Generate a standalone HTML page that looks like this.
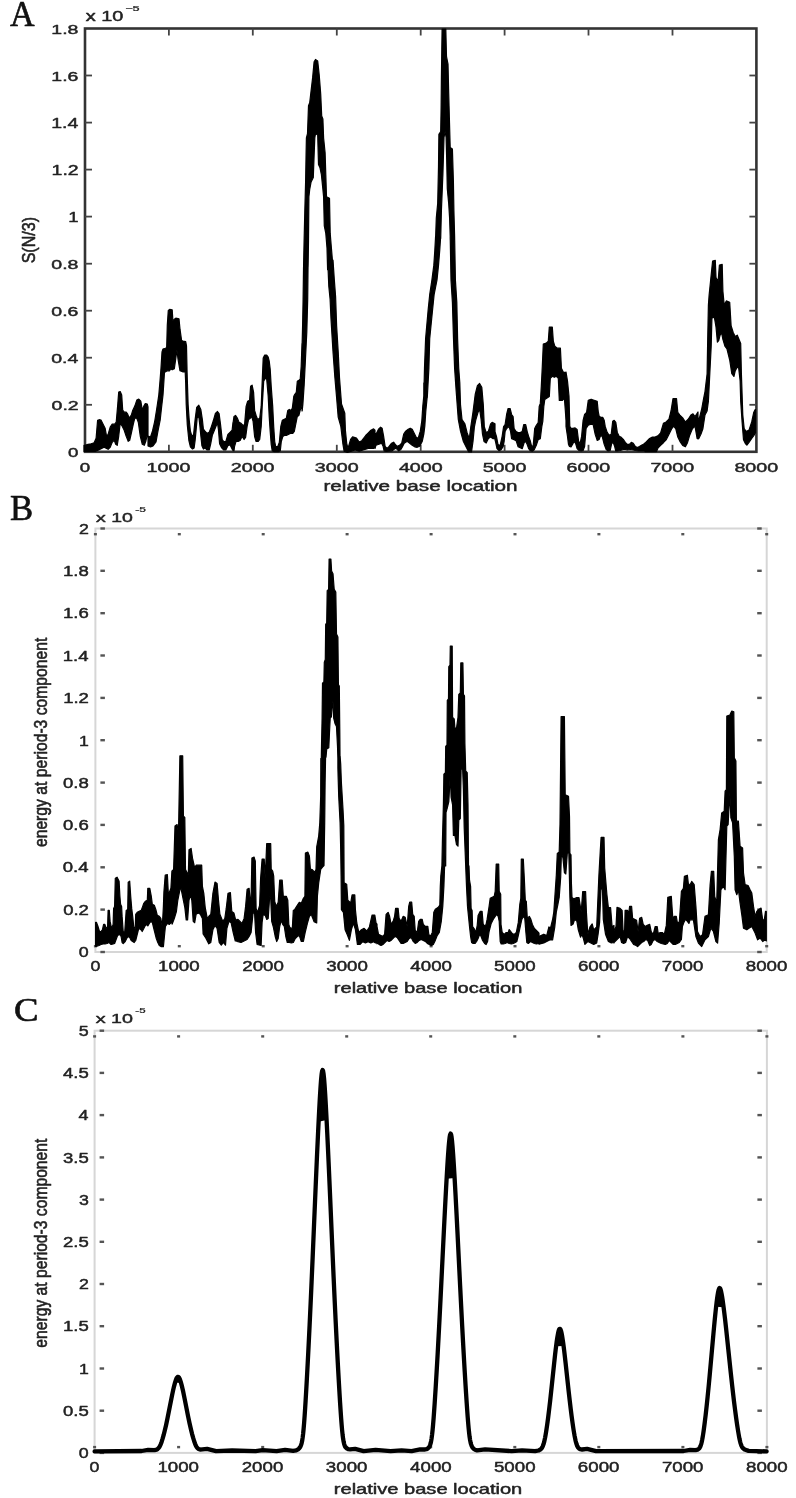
<!DOCTYPE html>
<html><head><meta charset="utf-8"><title>Figure</title>
<style>html,body{margin:0;padding:0;background:#fff;} svg{display:block;}</style>
</head><body>
<svg width="796" height="1498" viewBox="0 0 796 1498">
<rect width="796" height="1498" fill="#fff"/>
<g>
<rect x="85.0" y="28.5" width="671.4" height="423.3" fill="none" stroke="#333" stroke-width="2.6"/>
<line x1="168.9" y1="451.8" x2="168.9" y2="444.8" stroke="#444" stroke-width="1.8"/>
<line x1="168.9" y1="28.5" x2="168.9" y2="35.5" stroke="#444" stroke-width="1.8"/>
<line x1="252.8" y1="451.8" x2="252.8" y2="444.8" stroke="#444" stroke-width="1.8"/>
<line x1="252.8" y1="28.5" x2="252.8" y2="35.5" stroke="#444" stroke-width="1.8"/>
<line x1="336.8" y1="451.8" x2="336.8" y2="444.8" stroke="#444" stroke-width="1.8"/>
<line x1="336.8" y1="28.5" x2="336.8" y2="35.5" stroke="#444" stroke-width="1.8"/>
<line x1="420.7" y1="451.8" x2="420.7" y2="444.8" stroke="#444" stroke-width="1.8"/>
<line x1="420.7" y1="28.5" x2="420.7" y2="35.5" stroke="#444" stroke-width="1.8"/>
<line x1="504.6" y1="451.8" x2="504.6" y2="444.8" stroke="#444" stroke-width="1.8"/>
<line x1="504.6" y1="28.5" x2="504.6" y2="35.5" stroke="#444" stroke-width="1.8"/>
<line x1="588.5" y1="451.8" x2="588.5" y2="444.8" stroke="#444" stroke-width="1.8"/>
<line x1="588.5" y1="28.5" x2="588.5" y2="35.5" stroke="#444" stroke-width="1.8"/>
<line x1="672.5" y1="451.8" x2="672.5" y2="444.8" stroke="#444" stroke-width="1.8"/>
<line x1="672.5" y1="28.5" x2="672.5" y2="35.5" stroke="#444" stroke-width="1.8"/>
<line x1="85.0" y1="404.8" x2="92.0" y2="404.8" stroke="#444" stroke-width="1.8"/>
<line x1="756.4" y1="404.8" x2="749.4" y2="404.8" stroke="#444" stroke-width="1.8"/>
<line x1="85.0" y1="357.7" x2="92.0" y2="357.7" stroke="#444" stroke-width="1.8"/>
<line x1="756.4" y1="357.7" x2="749.4" y2="357.7" stroke="#444" stroke-width="1.8"/>
<line x1="85.0" y1="310.7" x2="92.0" y2="310.7" stroke="#444" stroke-width="1.8"/>
<line x1="756.4" y1="310.7" x2="749.4" y2="310.7" stroke="#444" stroke-width="1.8"/>
<line x1="85.0" y1="263.7" x2="92.0" y2="263.7" stroke="#444" stroke-width="1.8"/>
<line x1="756.4" y1="263.7" x2="749.4" y2="263.7" stroke="#444" stroke-width="1.8"/>
<line x1="85.0" y1="216.6" x2="92.0" y2="216.6" stroke="#444" stroke-width="1.8"/>
<line x1="756.4" y1="216.6" x2="749.4" y2="216.6" stroke="#444" stroke-width="1.8"/>
<line x1="85.0" y1="169.6" x2="92.0" y2="169.6" stroke="#444" stroke-width="1.8"/>
<line x1="756.4" y1="169.6" x2="749.4" y2="169.6" stroke="#444" stroke-width="1.8"/>
<line x1="85.0" y1="122.6" x2="92.0" y2="122.6" stroke="#444" stroke-width="1.8"/>
<line x1="756.4" y1="122.6" x2="749.4" y2="122.6" stroke="#444" stroke-width="1.8"/>
<line x1="85.0" y1="75.5" x2="92.0" y2="75.5" stroke="#444" stroke-width="1.8"/>
<line x1="756.4" y1="75.5" x2="749.4" y2="75.5" stroke="#444" stroke-width="1.8"/>
<polygon points="84.0,445.3 85.0,445.3 88.0,444.3 91.1,443.8 94.1,442.8 96.1,438.3 97.6,420.2 99.1,419.7 101.1,420.2 103.1,424.2 105.1,428.2 106.6,436.3 108.1,434.3 110.2,427.2 112.2,424.2 114.7,424.2 116.2,422.2 117.7,405.1 118.7,392.1 120.2,391.6 121.7,395.1 122.7,410.2 124.2,412.2 126.2,412.2 127.7,414.2 129.2,418.2 131.3,415.2 132.8,410.2 134.8,406.1 136.8,400.1 138.8,399.1 140.8,401.1 142.3,410.2 143.8,406.1 145.3,403.6 147.3,404.1 148.0,406.8 148.0,436.0 150.5,437.0 152.5,431.0 154.6,422.0 156.7,409.0 158.8,395.0 160.0,381.0 161.0,368.0 162.0,352.0 163.0,349.0 164.5,348.5 164.5,349.2 165.4,349.0 166.7,346.9 167.3,325.0 168.3,310.4 169.6,309.4 172.2,309.9 172.9,320.8 174.3,319.3 175.8,318.2 179.0,318.8 180.0,329.2 181.6,340.6 183.1,341.1 185.7,341.7 186.5,345.8 187.1,372.9 188.1,404.2 189.2,419.8 190.4,431.2 191.7,435.4 193.5,435.4 195.1,419.8 196.7,407.3 198.8,405.2 200.8,409.4 202.4,419.8 203.4,429.2 205.0,431.2 207.1,433.3 209.2,432.3 211.2,427.1 213.3,420.8 215.4,413.5 217.5,411.5 219.1,413.5 220.6,425.0 222.2,439.6 223.8,441.7 225.8,441.7 227.9,434.4 230.0,432.3 232.1,430.2 233.0,422.3 233.0,423.3 234.0,416.4 235.5,415.4 237.5,418.4 239.1,422.4 241.1,423.4 243.1,425.4 244.6,424.4 246.1,406.4 247.6,401.3 249.6,400.3 250.6,386.3 252.1,385.2 253.6,392.3 254.6,410.4 256.1,415.4 257.6,419.4 259.7,418.4 261.2,406.4 262.2,381.2 263.2,358.1 264.7,355.1 266.7,355.1 268.2,357.1 269.2,361.1 270.2,369.2 271.2,386.3 272.7,406.4 273.7,426.5 274.7,441.5 275.7,446.6 277.7,446.6 279.3,442.5 280.8,426.5 282.3,420.4 284.3,419.4 286.3,418.4 287.8,410.4 289.3,409.4 290.8,410.4 292.3,408.4 293.8,396.3 294.8,394.3 296.3,392.3 297.3,381.2 298.9,380.2 300.2,379.2 301.2,366.2 302.0,343.3 302.0,348.8 302.6,325.5 303.1,299.3 303.5,269.7 303.5,273.8 303.5,269.7 304.1,240.7 304.8,211.4 305.6,182.0 306.1,152.7 306.4,138.0 307.5,133.6 308.5,105.7 309.7,102.8 311.4,88.1 312.6,77.9 314.1,61.7 315.5,59.5 317.7,61.0 319.2,74.9 320.7,94.0 321.7,116.0 322.9,118.9 323.6,138.0 325.1,152.7 325.8,174.7 326.5,196.7 329.5,198.2 330.2,233.4 331.4,248.0 332.4,260.0 332.4,269.6 332.4,260.0 333.0,260.0 334.3,279.6 335.6,296.7 336.6,325.5 338.2,351.7 339.5,377.8 341.5,404.0 344.8,413.2 345.4,430.2 346.7,443.3 348.0,448.5 350.6,439.4 352.6,436.8 356.5,438.1 359.2,442.0 361.8,440.7 365.7,435.5 368.3,432.8 370.9,430.2 373.6,428.9 375.0,430.2 375.0,433.2 376.0,434.2 378.5,429.2 380.6,427.2 382.1,428.2 383.6,436.2 385.1,446.3 387.1,448.3 389.1,446.3 391.6,443.2 393.6,442.2 395.1,444.2 397.1,446.3 399.6,445.2 401.7,443.2 403.7,434.2 405.7,431.2 408.2,429.2 410.2,428.2 412.2,429.2 414.2,433.2 416.2,437.2 418.2,438.2 420.3,431.2 421.8,421.1 422.8,406.1 423.8,396.0 423.8,382.9 423.8,396.0 424.5,368.1 425.6,338.8 428.2,309.4 429.7,294.7 431.9,280.0 433.8,265.4 434.8,250.7 435.6,236.0 435.6,236.0 435.6,237.9 436.3,218.0 437.7,203.4 438.5,166.7 438.9,134.4 440.7,131.5 441.1,108.0 441.4,78.7 441.8,49.3 442.1,29.1 445.8,29.1 446.5,56.7 448.0,64.0 448.7,93.3 449.5,122.7 450.2,147.6 452.4,149.1 453.4,181.4 453.9,210.7 454.6,236.0 454.6,239.5 454.6,236.0 455.4,280.0 456.8,302.1 457.6,338.8 458.7,368.1 459.8,382.8 460.5,404.8 462.0,419.5 464.9,423.9 467.1,432.7 469.3,438.6 470.8,426.8 473.0,412.1 475.2,394.5 477.4,385.7 479.6,383.5 481.8,387.2 483.3,404.8 484.3,426.8 486.2,432.7 488.4,431.2 490.6,423.9 492.1,422.4 495.0,423.9 495.0,431.5 495.0,431.6 496.5,436.6 498.0,444.6 500.1,445.6 502.1,436.6 503.6,426.6 505.1,424.5 506.6,414.5 508.1,408.5 510.1,408.5 511.6,414.5 513.1,416.5 514.1,428.6 516.1,431.6 518.1,432.6 520.2,432.6 522.2,431.6 523.7,424.5 525.7,424.5 527.2,431.6 528.7,436.6 530.2,440.6 531.7,446.7 533.2,445.6 534.7,428.6 536.2,425.5 538.2,422.5 539.2,406.5 540.3,403.4 541.3,386.4 542.3,366.3 543.3,344.1 546.3,343.1 548.3,341.1 549.3,327.1 552.3,327.1 553.3,341.1 554.8,346.2 557.3,348.2 560.4,348.2 561.4,368.3 563.4,372.3 565.9,372.3 566.0,372.1 566.0,373.8 566.0,372.1 567.5,381.1 569.0,396.2 569.8,426.4 571.0,428.4 573.0,428.4 575.1,427.9 577.1,429.4 578.6,441.4 580.1,443.4 581.6,436.4 583.1,420.3 584.6,414.3 586.6,412.3 588.3,400.2 591.1,399.2 594.1,400.2 597.2,401.2 598.2,411.3 599.2,416.3 600.7,417.3 602.7,417.3 604.2,420.3 605.2,426.4 607.2,432.4 609.2,435.4 611.2,434.4 612.7,421.3 614.2,420.3 615.8,422.3 617.3,432.4 619.3,436.4 621.3,437.4 623.3,439.4 625.3,442.4 627.3,444.4 629.3,444.4 631.3,442.4 633.3,443.4 635.4,446.5 637.4,447.5 639.4,446.5 641.4,445.4 643.4,444.4 645.0,443.0 645.0,443.4 645.5,442.7 649.6,438.5 652.4,437.1 655.1,437.1 657.9,435.8 660.6,433.0 663.4,423.4 666.1,422.0 668.9,419.3 671.0,411.0 673.0,398.6 676.5,398.6 677.8,412.4 679.9,415.1 682.7,417.9 685.4,422.0 688.2,419.3 690.9,415.1 693.0,413.8 695.0,416.5 697.8,412.4 698.0,412.0 698.0,419.2 699.5,417.7 701.6,409.5 703.6,398.5 705.0,391.6 707.1,373.7 707.7,339.4 708.4,305.0 709.1,295.4 710.5,281.6 712.6,261.0 715.3,260.3 716.0,277.5 718.1,281.6 719.4,265.1 722.2,264.4 722.9,291.2 724.2,305.0 726.3,300.9 729.7,302.2 731.1,325.6 733.2,332.5 735.2,336.6 737.3,335.2 740.7,343.5 741.4,373.7 742.1,394.4 742.8,415.0 744.2,428.7 746.2,431.5 749.0,430.1 751.7,421.9 753.8,412.2 755.2,409.5 755.5,409.5 755.5,432.9 755.2,432.9 753.8,435.6 751.7,438.4 749.0,442.5 746.9,445.2 745.6,443.9 743.5,439.7 742.1,421.9 740.7,401.2 740.1,380.6 738.7,368.2 737.3,366.9 735.2,371.0 733.9,376.5 731.8,373.7 729.7,360.0 727.0,349.0 724.9,346.2 722.9,339.4 721.5,332.5 720.1,335.2 718.7,340.7 717.4,342.1 716.0,327.0 714.6,318.7 713.2,316.0 711.9,318.7 711.2,346.2 709.8,373.7 708.4,401.2 707.1,410.9 705.0,415.0 702.9,428.7 700.9,434.2 698.8,438.4 698.0,438.9 698.0,437.3 697.1,438.5 695.0,426.1 692.3,428.9 689.5,435.8 687.5,442.7 685.4,446.8 682.7,445.4 679.9,441.3 677.8,437.1 675.8,428.9 673.7,426.1 671.6,428.9 668.9,434.4 666.1,439.9 663.4,442.7 660.6,445.4 657.9,448.2 656.5,451.6 651.0,451.6 645.5,451.6 645.0,451.7 645.0,451.0 641.4,451.0 638.4,451.0 635.4,450.5 633.3,450.0 630.3,449.5 627.3,450.0 625.3,449.5 623.3,449.5 620.3,450.5 617.3,451.0 615.8,451.0 614.7,446.5 613.2,442.4 611.7,443.4 610.2,450.5 608.2,451.0 606.2,449.5 604.2,444.4 602.2,436.4 600.7,435.4 599.2,439.4 597.2,440.4 595.2,434.4 593.1,424.3 591.1,424.3 588.1,425.3 586.1,428.4 584.6,446.5 583.1,450.5 581.1,451.0 579.1,450.5 577.1,448.5 575.6,443.4 574.0,441.4 572.5,444.4 571.0,447.0 569.5,446.5 568.5,444.4 567.5,436.4 566.0,426.4 566.0,426.4 566.0,420.8 565.4,411.5 564.4,398.4 562.4,400.4 559.3,400.4 558.3,378.3 556.3,376.3 554.3,377.3 552.3,376.3 550.3,378.3 549.3,396.4 547.8,397.4 546.3,398.4 544.8,399.4 543.8,406.5 542.8,421.5 541.8,426.6 540.3,438.6 538.2,439.6 536.2,445.6 534.2,449.7 532.2,451.2 530.2,450.7 528.7,448.7 527.2,444.6 525.7,441.6 524.2,442.6 522.2,448.7 520.2,447.7 518.1,446.7 516.1,440.6 514.1,439.6 511.6,438.6 510.6,431.6 509.1,426.6 506.6,428.6 505.1,431.6 504.1,441.6 503.1,446.7 501.1,449.7 499.0,450.7 497.0,448.7 495.5,441.6 495.0,439.9 495.0,438.6 492.8,438.6 490.6,437.1 488.4,438.6 486.2,443.0 484.0,441.5 482.5,434.2 481.1,419.5 479.6,409.2 478.1,412.1 475.9,419.5 474.4,426.8 473.0,441.5 471.5,451.8 468.6,451.8 466.4,447.4 463.4,441.5 460.5,431.2 458.3,419.5 456.1,390.1 454.6,368.1 453.5,338.8 452.4,302.1 451.0,280.0 450.2,236.0 450.2,239.5 450.2,236.0 449.6,218.0 448.7,203.4 447.3,188.7 446.7,159.4 446.1,137.4 445.1,131.5 444.0,137.4 442.9,174.0 442.3,188.7 441.4,210.7 440.7,238.6 440.7,236.0 440.7,236.0 439.7,250.7 438.5,265.4 437.0,280.0 434.1,294.7 432.6,309.4 429.7,338.8 428.9,368.1 427.3,397.5 427.3,397.5 427.3,396.0 427.3,396.0 426.8,401.0 425.8,411.1 424.8,426.2 423.8,434.2 422.3,441.2 419.7,446.3 417.2,447.3 414.7,446.8 412.2,445.2 409.7,443.2 407.2,441.2 404.2,443.2 402.2,447.3 400.7,449.8 398.6,450.8 396.1,448.3 394.1,449.3 392.1,450.8 389.1,451.1 386.1,451.3 384.1,450.8 383.1,446.3 381.6,443.2 379.0,444.2 376.0,445.2 375.0,448.5 375.0,445.6 373.6,448.5 368.3,448.5 363.1,449.9 359.2,451.2 355.2,449.9 351.3,451.2 347.4,452.5 344.1,451.2 342.8,443.3 340.8,426.3 338.2,417.1 336.6,397.5 334.9,377.8 333.0,351.7 331.0,318.9 330.1,299.3 328.8,286.2 327.7,260.0 327.6,269.7 327.6,260.0 327.6,269.7 327.0,248.0 325.8,233.4 324.3,226.0 323.6,196.7 322.9,189.4 321.4,174.7 319.9,167.4 318.5,164.4 317.7,135.1 315.5,133.6 314.8,138.0 314.1,155.6 313.3,177.6 311.1,182.0 309.7,189.4 308.9,196.7 308.5,240.7 308.1,266.8 308.1,260.0 308.1,260.0 307.7,299.3 306.8,332.0 305.5,358.2 304.2,384.4 302.9,404.0 302.2,410.6 302.0,411.0 302.0,405.0 301.9,406.4 300.4,409.4 298.9,415.4 297.3,416.4 295.3,426.5 294.3,431.5 292.8,433.5 290.3,433.5 288.3,434.5 286.3,435.5 284.3,435.5 282.8,436.5 281.3,441.5 280.3,450.6 278.3,451.6 276.2,451.6 274.2,451.6 272.2,450.6 271.2,444.5 270.2,431.5 269.2,416.4 268.2,396.3 266.7,379.2 265.2,378.2 263.7,381.2 262.2,406.4 261.2,426.5 259.7,439.5 258.2,441.5 256.1,441.5 254.6,436.5 253.1,421.4 251.6,416.4 250.1,418.4 248.6,419.4 247.1,426.5 245.6,437.5 244.1,439.5 242.1,436.5 240.1,440.5 238.1,441.5 236.0,441.5 234.5,446.6 234.0,450.6 233.0,450.6 233.0,450.0 232.6,450.0 231.6,447.9 230.0,444.8 227.9,445.8 225.8,450.0 223.8,450.0 221.7,447.9 219.6,443.8 218.5,430.2 217.5,422.9 216.5,425.0 214.4,430.2 212.3,435.4 210.7,443.8 209.2,450.0 207.1,450.0 205.0,447.9 203.4,449.0 201.9,445.8 200.8,435.4 199.8,425.0 198.8,416.7 197.2,417.7 196.1,430.2 195.1,440.6 194.1,447.9 192.5,449.0 190.4,446.9 188.9,440.6 187.3,425.0 186.2,404.2 185.7,383.3 185.2,371.9 183.1,371.9 180.0,370.8 177.9,358.3 176.9,350.0 175.8,358.3 174.3,368.8 172.2,369.8 170.6,368.8 169.6,370.8 167.0,370.8 165.4,371.9 164.5,372.0 164.5,371.9 163.0,395.0 161.5,408.0 160.2,420.0 158.0,431.0 156.0,442.0 153.0,446.0 150.5,447.0 148.0,446.0 148.0,434.9 147.3,434.3 145.8,441.3 144.3,445.3 142.3,444.3 140.3,436.3 138.3,422.2 136.8,418.2 134.8,418.2 133.3,424.2 131.3,433.3 129.7,440.3 128.2,441.3 126.2,436.3 124.2,430.3 122.2,426.2 120.2,423.2 118.7,436.3 117.2,445.3 115.7,444.3 114.2,440.3 112.2,442.3 110.2,447.3 108.1,449.3 106.1,448.3 104.1,447.3 102.1,448.3 100.1,449.3 97.6,450.4 95.1,451.4 90.1,451.4 85.0,451.4 84.0,451.4" fill="#000" stroke="#000" stroke-width="1.2" stroke-linejoin="round"/>
<rect x="95.4" y="528.5" width="671.3" height="423.5" fill="none" stroke="#d6d6d6" stroke-width="2"/>
<rect x="93.9" y="945.0" width="3" height="2.4" fill="#555"/>
<rect x="93.9" y="533.0" width="3" height="2.4" fill="#555"/>
<rect x="177.8" y="945.0" width="3" height="2.4" fill="#555"/>
<rect x="177.8" y="533.0" width="3" height="2.4" fill="#555"/>
<rect x="261.7" y="945.0" width="3" height="2.4" fill="#555"/>
<rect x="261.7" y="533.0" width="3" height="2.4" fill="#555"/>
<rect x="345.6" y="945.0" width="3" height="2.4" fill="#555"/>
<rect x="345.6" y="533.0" width="3" height="2.4" fill="#555"/>
<rect x="429.6" y="945.0" width="3" height="2.4" fill="#555"/>
<rect x="429.6" y="533.0" width="3" height="2.4" fill="#555"/>
<rect x="513.5" y="945.0" width="3" height="2.4" fill="#555"/>
<rect x="513.5" y="533.0" width="3" height="2.4" fill="#555"/>
<rect x="597.4" y="945.0" width="3" height="2.4" fill="#555"/>
<rect x="597.4" y="533.0" width="3" height="2.4" fill="#555"/>
<rect x="681.3" y="945.0" width="3" height="2.4" fill="#555"/>
<rect x="681.3" y="533.0" width="3" height="2.4" fill="#555"/>
<rect x="765.2" y="945.0" width="3" height="2.4" fill="#555"/>
<rect x="765.2" y="533.0" width="3" height="2.4" fill="#555"/>
<rect x="100.4" y="950.8" width="4.5" height="2.4" fill="#555"/>
<rect x="757.2" y="950.8" width="4.5" height="2.4" fill="#555"/>
<rect x="100.4" y="908.4" width="4.5" height="2.4" fill="#555"/>
<rect x="757.2" y="908.4" width="4.5" height="2.4" fill="#555"/>
<rect x="100.4" y="866.1" width="4.5" height="2.4" fill="#555"/>
<rect x="757.2" y="866.1" width="4.5" height="2.4" fill="#555"/>
<rect x="100.4" y="823.7" width="4.5" height="2.4" fill="#555"/>
<rect x="757.2" y="823.7" width="4.5" height="2.4" fill="#555"/>
<rect x="100.4" y="781.4" width="4.5" height="2.4" fill="#555"/>
<rect x="757.2" y="781.4" width="4.5" height="2.4" fill="#555"/>
<rect x="100.4" y="739.0" width="4.5" height="2.4" fill="#555"/>
<rect x="757.2" y="739.0" width="4.5" height="2.4" fill="#555"/>
<rect x="100.4" y="696.7" width="4.5" height="2.4" fill="#555"/>
<rect x="757.2" y="696.7" width="4.5" height="2.4" fill="#555"/>
<rect x="100.4" y="654.3" width="4.5" height="2.4" fill="#555"/>
<rect x="757.2" y="654.3" width="4.5" height="2.4" fill="#555"/>
<rect x="100.4" y="612.0" width="4.5" height="2.4" fill="#555"/>
<rect x="757.2" y="612.0" width="4.5" height="2.4" fill="#555"/>
<rect x="100.4" y="569.6" width="4.5" height="2.4" fill="#555"/>
<rect x="757.2" y="569.6" width="4.5" height="2.4" fill="#555"/>
<rect x="100.4" y="527.3" width="4.5" height="2.4" fill="#555"/>
<rect x="757.2" y="527.3" width="4.5" height="2.4" fill="#555"/>
<polygon points="95.6,922.4 96.5,922.4 98.0,926.5 99.5,931.5 101.0,931.5 102.5,929.5 103.6,924.4 104.9,924.4 106.1,928.5 107.6,926.5 108.1,910.4 109.3,910.4 110.1,921.4 111.6,928.5 113.1,924.4 113.6,908.4 114.6,906.4 115.3,878.2 117.1,877.2 119.1,881.2 119.9,896.3 120.6,904.3 121.6,906.4 122.1,916.4 123.2,931.5 124.7,932.5 126.2,910.4 127.7,909.4 128.2,882.2 129.7,881.2 130.7,896.3 131.7,908.4 132.7,916.4 133.7,926.5 135.2,929.5 135.7,914.4 137.2,912.4 139.2,911.4 141.2,910.4 142.7,906.4 143.8,903.3 145.3,901.3 147.3,900.3 147.8,888.3 149.8,888.3 151.3,896.3 152.3,904.3 154.3,905.3 155.8,909.4 157.3,915.4 159.3,916.4 160.8,918.4 162.3,926.5 163.4,906.4 163.9,892.3 165.2,875.2 167.4,874.7 168.4,895.3 169.4,892.3 170.9,888.3 171.9,871.2 172.0,871.0 172.0,872.4 172.2,870.8 173.6,869.4 175.0,826.0 177.1,824.6 178.5,833.0 179.9,755.8 182.7,755.8 183.4,816.1 184.8,817.5 185.5,869.4 186.9,872.2 188.3,875.1 189.0,849.8 191.1,848.4 192.5,858.2 194.7,868.0 196.1,865.2 201.7,865.2 202.4,886.3 203.8,893.3 205.2,907.3 207.3,918.5 209.4,915.7 210.8,914.3 212.9,893.3 215.0,882.1 217.1,883.5 218.5,900.3 219.9,914.3 222.7,921.3 224.8,918.5 226.2,908.7 228.0,893.3 230.4,892.6 231.8,911.5 233.9,912.9 236.0,921.3 237.0,919.4 237.0,920.6 238.0,919.4 240.0,921.4 242.0,923.4 244.1,918.4 245.6,906.4 247.1,889.3 249.1,888.3 250.1,899.3 251.1,898.3 251.9,858.1 254.1,857.1 255.3,861.1 256.1,908.4 257.6,912.4 259.6,905.3 260.6,878.2 262.1,859.1 264.2,859.1 265.2,878.2 266.7,843.5 270.7,843.5 271.2,869.2 272.7,871.2 273.7,876.2 274.7,901.3 276.2,906.4 278.2,902.3 279.7,880.2 282.2,880.2 283.3,896.3 286.3,896.3 287.8,900.3 288.8,924.4 289.8,927.5 292.3,928.5 293.3,910.4 294.8,909.4 297.3,905.3 299.3,902.3 301.3,903.3 303.4,898.3 304.9,896.3 305.4,853.1 307.9,852.1 309.4,856.1 310.4,869.2 312.0,869.5 312.0,869.8 312.0,869.5 314.7,872.2 316.0,869.5 316.7,846.8 318.7,836.1 319.8,822.8 320.7,796.1 320.8,758.4 320.8,785.1 321.5,746.3 322.1,718.2 322.5,683.2 323.9,681.8 324.3,662.2 325.3,659.4 325.7,624.3 326.7,622.9 327.2,590.7 328.6,589.3 329.1,559.1 330.9,559.1 331.6,571.0 333.0,573.8 334.2,589.3 335.8,592.1 336.5,634.1 337.9,636.9 338.4,684.6 339.3,686.0 339.8,732.3 340.0,755.2 340.0,756.0 340.1,756.0 340.7,764.0 341.4,782.7 343.0,809.4 343.8,825.5 344.1,882.9 346.7,884.2 347.8,900.3 350.7,902.9 352.1,894.9 354.8,894.9 355.4,909.6 356.8,923.0 358.8,932.3 361.4,929.7 364.1,928.3 366.8,931.0 369.4,927.0 372.1,915.0 374.8,915.0 376.1,923.0 377.0,924.2 377.0,926.3 377.0,926.4 378.5,934.4 380.5,935.4 382.5,936.4 384.6,934.4 386.1,914.3 388.1,912.3 389.6,916.3 391.1,924.3 393.1,921.3 394.6,916.3 395.6,908.3 398.1,908.3 399.1,918.3 401.1,921.3 403.2,916.3 405.2,917.3 407.2,926.4 408.7,906.3 409.7,902.2 411.7,902.2 412.7,914.3 414.2,916.3 415.2,930.4 417.2,932.4 418.7,921.3 420.2,919.3 422.2,919.3 423.3,924.3 425.3,926.4 427.8,926.4 428.8,934.4 430.3,936.4 432.3,932.4 433.8,912.3 435.3,909.3 438.3,907.3 439.8,905.2 440.3,886.2 440.8,876.1 441.9,865.9 441.9,874.7 441.9,865.9 442.4,841.6 443.4,804.8 443.9,774.1 445.4,772.6 445.7,746.5 447.0,744.9 447.3,700.4 448.5,698.9 448.8,666.7 450.0,665.2 450.3,646.0 452.2,646.0 452.6,717.3 454.2,718.9 454.9,728.1 456.5,728.1 458.0,717.3 458.8,694.3 460.3,692.8 460.8,662.9 462.9,662.9 463.4,694.3 464.5,695.8 464.9,743.4 465.7,771.0 467.2,772.6 468.0,804.8 468.5,865.9 468.5,865.1 468.5,865.9 468.5,865.1 469.0,866.2 469.5,880.2 470.6,886.3 471.1,908.4 472.1,910.4 472.6,926.5 474.1,928.5 475.6,932.5 477.1,926.5 478.1,915.4 480.1,911.4 482.1,911.4 483.1,923.4 484.6,926.5 486.1,924.4 487.1,919.4 489.1,906.4 490.2,898.3 492.2,897.3 494.2,896.3 495.2,891.3 496.2,864.1 498.7,864.1 499.2,891.3 500.7,894.3 501.0,924.4 502.2,932.5 504.2,934.5 506.2,932.5 508.2,932.5 509.2,929.5 510.8,931.5 512.3,933.5 514.3,934.5 516.3,932.5 518.3,922.4 519.8,904.3 520.8,898.3 521.3,859.1 523.3,859.1 524.3,878.2 525.3,900.3 526.3,901.3 527.3,918.4 529.3,916.4 530.9,919.4 532.4,924.4 534.4,928.5 536.4,930.5 538.4,932.5 539.0,933.2 539.0,936.9 540.9,935.6 543.8,934.2 546.7,935.6 548.9,926.8 550.4,928.3 552.6,919.5 553.8,912.1 554.8,897.5 556.3,875.4 557.3,853.4 559.2,852.0 560.0,824.1 561.1,716.6 564.4,716.6 565.2,794.7 568.5,796.2 569.5,816.7 569.9,853.4 571.0,854.9 571.4,882.8 572.0,897.5 573.9,898.9 576.8,897.5 579.0,897.5 581.2,912.1 582.7,891.6 585.6,891.6 586.4,912.1 587.8,934.2 590.0,926.8 592.2,923.9 593.7,929.8 596.7,926.8 598.9,875.4 600.3,850.5 601.1,837.3 604.0,837.3 604.7,868.1 606.9,894.5 608.4,907.7 610.6,907.7 612.1,926.8 614.0,925.5 614.0,930.8 615.0,929.5 616.0,926.5 617.0,907.4 620.1,908.4 622.1,910.4 623.1,931.5 624.6,930.5 625.1,910.4 627.6,910.4 628.6,914.4 629.6,906.4 631.6,906.4 632.6,918.4 634.6,919.4 636.6,920.4 638.1,931.5 639.6,918.4 641.7,917.4 643.2,924.4 645.2,926.5 647.2,925.4 649.7,924.4 651.2,931.5 653.2,934.5 655.2,926.5 657.2,926.5 658.2,933.5 660.3,932.5 662.3,932.5 664.3,934.5 666.3,925.4 667.8,897.3 671.3,896.3 672.8,918.4 674.3,916.4 676.3,916.4 677.3,922.4 679.3,922.4 680.4,906.4 681.4,891.3 683.4,888.3 684.4,876.2 687.4,875.2 688.4,884.2 689.0,884.2 689.0,885.5 689.2,886.4 691.7,881.4 694.2,884.7 695.9,906.4 697.5,931.5 700.0,936.5 702.5,934.8 705.0,916.4 708.4,914.8 710.1,884.7 711.4,871.3 713.7,871.3 714.7,896.4 716.7,903.1 718.4,839.6 720.1,829.6 721.7,812.9 724.2,811.2 725.1,791.2 726.4,789.5 726.8,716.0 729.8,715.2 730.9,712.7 731.8,711.0 733.8,711.8 734.3,757.8 735.9,761.1 736.4,821.2 738.4,821.2 740.1,846.3 742.6,848.0 743.5,873.0 745.1,884.7 748.1,885.5 750.1,889.7 751.8,893.0 753.5,906.4 755.1,916.4 756.8,911.4 758.5,909.7 761.0,908.1 762.7,919.8 764.3,919.8 765.5,911.4 766.3,911.4 766.3,940.9 765.2,939.8 762.7,941.5 760.2,938.1 757.6,939.8 755.1,933.1 751.8,926.4 749.3,928.1 746.8,929.8 743.5,928.1 741.8,914.8 740.1,903.1 738.4,889.7 736.8,894.7 735.1,889.7 734.3,856.3 732.6,822.9 730.9,817.9 729.8,792.8 728.1,824.6 726.8,826.2 725.1,889.7 723.4,886.4 720.9,889.7 719.2,923.1 717.6,943.1 715.9,941.5 713.4,931.5 710.9,928.1 708.4,936.5 705.0,939.8 701.7,946.5 698.4,943.1 695.9,936.5 693.4,919.8 690.0,919.8 689.0,923.3 689.0,921.1 688.9,923.4 687.4,921.4 685.4,919.4 683.9,922.4 682.4,926.5 681.4,939.5 679.3,942.5 677.3,943.5 675.3,944.5 673.3,944.5 671.3,942.5 669.3,940.5 667.3,943.5 665.3,944.5 663.3,944.0 661.3,943.5 659.2,942.5 657.2,941.5 655.2,939.5 653.2,940.5 651.2,944.5 649.7,945.5 647.7,940.5 645.7,939.5 643.7,941.5 641.7,942.5 639.6,944.5 637.6,946.6 636.1,945.5 633.6,944.5 631.6,941.5 629.6,938.5 627.6,936.5 625.6,942.5 623.6,943.5 621.6,942.5 620.1,936.5 618.0,938.5 616.0,940.5 614.0,942.5 614.0,943.0 614.0,942.5 611.3,943.0 608.4,941.5 605.5,934.2 603.3,919.5 602.5,890.1 601.1,885.7 599.6,922.4 598.1,934.2 596.7,943.0 593.7,944.4 590.8,943.0 587.8,941.5 584.9,944.4 583.4,938.6 582.0,934.2 580.5,937.1 578.3,929.8 576.8,921.0 574.6,919.5 573.2,923.9 571.0,925.4 569.9,897.5 568.8,852.0 567.3,853.4 565.8,874.0 564.4,872.5 562.9,857.8 561.4,853.4 560.7,876.9 559.2,897.5 557.8,904.8 556.3,912.1 554.8,926.8 552.6,940.0 549.7,940.0 546.7,941.5 543.8,943.0 540.9,943.7 539.0,944.2 539.0,943.5 538.4,943.5 536.4,944.0 534.4,943.5 532.4,942.5 530.4,941.5 528.3,943.5 526.8,942.5 525.8,931.5 524.8,918.4 523.3,916.4 521.8,919.4 520.3,926.5 518.3,935.5 516.8,941.5 515.3,942.5 513.3,943.5 511.3,944.0 509.2,943.5 507.2,942.5 505.2,943.5 503.2,944.0 501.2,944.0 500.2,941.5 499.2,921.4 498.2,916.4 496.7,914.4 495.2,916.4 493.2,919.4 491.2,923.4 489.1,931.5 487.6,941.5 486.1,944.5 484.6,943.5 482.6,940.5 481.1,936.5 479.6,934.5 478.1,938.5 476.6,941.5 475.1,943.5 473.1,943.5 471.6,942.5 470.6,936.5 469.5,926.5 468.5,916.4 467.5,906.4 466.5,886.3 465.7,866.2 465.7,866.2 465.7,865.9 465.7,865.9 464.2,827.8 463.4,789.4 462.6,768.0 461.1,769.5 460.3,818.6 458.8,820.1 458.0,846.2 456.5,844.7 454.9,835.5 453.4,835.5 452.6,804.8 451.1,797.1 450.3,774.1 448.8,801.7 447.3,807.9 446.0,812.5 445.7,865.9 445.7,865.9 445.7,856.0 445.4,856.0 444.6,866.1 443.9,886.2 442.8,906.3 441.3,921.3 439.3,932.4 437.3,935.4 435.3,940.4 433.3,944.4 431.3,945.4 429.3,944.4 427.3,943.4 425.3,941.4 423.3,940.4 421.2,939.4 419.2,940.4 417.2,942.4 415.2,943.4 413.2,941.4 411.2,937.4 409.2,938.4 407.2,941.4 405.2,942.4 403.2,943.4 401.1,943.4 399.1,940.4 397.1,937.4 395.1,936.4 393.1,938.4 391.1,940.4 389.1,941.4 387.1,940.4 385.1,942.4 383.1,944.4 381.0,945.4 379.0,944.4 377.0,942.4 377.0,943.8 377.0,942.4 375.5,943.0 373.5,941.7 370.8,943.0 368.1,941.7 365.4,943.0 362.8,941.7 360.1,944.4 357.4,944.4 355.4,929.7 353.4,923.0 351.4,929.7 349.4,940.3 347.4,935.0 345.1,929.7 343.4,912.3 341.4,909.6 341.1,876.2 340.7,849.5 340.1,822.8 338.7,796.1 338.1,776.0 337.9,768.2 337.9,758.5 337.5,746.3 336.5,726.6 335.1,723.8 333.7,718.2 333.0,701.4 332.3,704.2 331.4,716.8 330.2,718.2 329.5,732.3 328.8,747.7 326.7,749.1 326.0,757.2 326.0,756.0 325.6,756.0 325.1,782.7 324.7,822.8 324.0,865.5 322.7,866.9 320.7,869.5 318.7,882.9 317.4,896.3 316.7,923.0 314.0,921.6 312.0,916.3 312.0,916.7 312.0,916.3 311.4,914.4 309.4,916.4 307.4,923.4 305.4,931.5 303.4,941.5 301.3,941.5 299.3,935.5 297.3,936.5 295.3,938.5 293.3,942.5 291.3,943.0 289.3,942.5 287.3,942.5 285.8,936.5 284.3,926.5 282.7,924.4 281.2,920.4 279.7,926.5 278.2,938.5 276.7,941.5 275.2,936.5 273.2,926.5 271.7,921.4 270.7,898.3 269.7,896.3 268.2,918.4 266.7,919.4 265.2,915.4 263.2,914.4 262.1,922.4 261.1,945.5 259.1,945.0 257.1,944.5 255.6,932.5 254.6,913.4 253.1,912.4 251.1,932.5 249.1,936.5 247.1,939.5 245.1,940.5 243.1,941.5 241.0,942.5 239.0,942.0 237.0,941.5 237.0,941.5 237.0,941.0 235.3,941.0 233.2,932.6 231.1,922.7 229.0,921.3 226.9,928.4 225.5,945.2 223.4,942.4 221.3,945.2 219.2,942.4 217.1,928.4 215.0,925.5 212.9,929.8 210.8,942.4 208.7,943.8 205.9,938.2 203.1,934.0 202.4,918.5 200.3,914.3 198.2,912.9 196.1,914.3 194.7,922.7 193.2,921.3 191.8,900.3 190.4,894.7 189.0,900.3 187.6,919.9 186.2,919.9 184.8,907.3 183.4,900.3 182.0,893.3 180.6,886.3 179.2,893.3 177.8,900.3 176.4,911.5 174.3,918.5 172.2,924.1 172.0,924.0 172.0,922.4 171.4,922.4 169.4,924.4 167.4,923.4 165.4,926.5 164.4,936.5 163.4,946.6 161.3,946.6 159.3,945.5 157.8,942.5 156.3,938.5 154.8,932.5 153.3,926.5 152.3,922.4 150.8,921.4 149.3,923.4 147.8,925.9 146.3,924.4 144.8,926.5 143.3,929.5 142.2,931.5 140.7,929.5 138.7,928.5 137.2,934.5 135.7,940.5 134.2,942.5 132.7,941.5 131.2,940.5 129.7,937.5 128.2,936.5 126.7,938.5 125.2,941.5 123.2,943.5 122.1,942.5 121.1,936.5 119.6,934.5 117.6,935.5 116.1,939.5 114.6,943.5 113.1,944.0 111.1,944.5 109.1,942.5 107.1,943.5 105.1,944.0 103.1,944.0 101.0,944.5 99.0,945.5 97.0,946.1 95.6,946.4" fill="#000" stroke="#000" stroke-width="1.2" stroke-linejoin="round"/>
<rect x="94.6" y="1030.7" width="672.3" height="422.2" fill="none" stroke="#d6d6d6" stroke-width="2"/>
<rect x="93.1" y="1445.9" width="3" height="2.4" fill="#555"/>
<rect x="93.1" y="1035.2" width="3" height="2.4" fill="#555"/>
<rect x="177.1" y="1445.9" width="3" height="2.4" fill="#555"/>
<rect x="177.1" y="1035.2" width="3" height="2.4" fill="#555"/>
<rect x="261.2" y="1445.9" width="3" height="2.4" fill="#555"/>
<rect x="261.2" y="1035.2" width="3" height="2.4" fill="#555"/>
<rect x="345.2" y="1445.9" width="3" height="2.4" fill="#555"/>
<rect x="345.2" y="1035.2" width="3" height="2.4" fill="#555"/>
<rect x="429.2" y="1445.9" width="3" height="2.4" fill="#555"/>
<rect x="429.2" y="1035.2" width="3" height="2.4" fill="#555"/>
<rect x="513.3" y="1445.9" width="3" height="2.4" fill="#555"/>
<rect x="513.3" y="1035.2" width="3" height="2.4" fill="#555"/>
<rect x="597.3" y="1445.9" width="3" height="2.4" fill="#555"/>
<rect x="597.3" y="1035.2" width="3" height="2.4" fill="#555"/>
<rect x="681.4" y="1445.9" width="3" height="2.4" fill="#555"/>
<rect x="681.4" y="1035.2" width="3" height="2.4" fill="#555"/>
<rect x="765.4" y="1445.9" width="3" height="2.4" fill="#555"/>
<rect x="765.4" y="1035.2" width="3" height="2.4" fill="#555"/>
<rect x="99.6" y="1451.7" width="4.5" height="2.4" fill="#555"/>
<rect x="757.4" y="1451.7" width="4.5" height="2.4" fill="#555"/>
<rect x="99.6" y="1409.5" width="4.5" height="2.4" fill="#555"/>
<rect x="757.4" y="1409.5" width="4.5" height="2.4" fill="#555"/>
<rect x="99.6" y="1367.3" width="4.5" height="2.4" fill="#555"/>
<rect x="757.4" y="1367.3" width="4.5" height="2.4" fill="#555"/>
<rect x="99.6" y="1325.0" width="4.5" height="2.4" fill="#555"/>
<rect x="757.4" y="1325.0" width="4.5" height="2.4" fill="#555"/>
<rect x="99.6" y="1282.8" width="4.5" height="2.4" fill="#555"/>
<rect x="757.4" y="1282.8" width="4.5" height="2.4" fill="#555"/>
<rect x="99.6" y="1240.6" width="4.5" height="2.4" fill="#555"/>
<rect x="757.4" y="1240.6" width="4.5" height="2.4" fill="#555"/>
<rect x="99.6" y="1198.4" width="4.5" height="2.4" fill="#555"/>
<rect x="757.4" y="1198.4" width="4.5" height="2.4" fill="#555"/>
<rect x="99.6" y="1156.2" width="4.5" height="2.4" fill="#555"/>
<rect x="757.4" y="1156.2" width="4.5" height="2.4" fill="#555"/>
<rect x="99.6" y="1113.9" width="4.5" height="2.4" fill="#555"/>
<rect x="757.4" y="1113.9" width="4.5" height="2.4" fill="#555"/>
<rect x="99.6" y="1071.7" width="4.5" height="2.4" fill="#555"/>
<rect x="757.4" y="1071.7" width="4.5" height="2.4" fill="#555"/>
<rect x="99.6" y="1029.5" width="4.5" height="2.4" fill="#555"/>
<rect x="757.4" y="1029.5" width="4.5" height="2.4" fill="#555"/>
<polyline points="94.6,1451.4 141.6,1451.0 148.1,1449.8 154.6,1450.2 156.6,1449.7 157.6,1449.1 158.6,1448.1 159.6,1446.7 160.6,1444.6 161.6,1441.9 162.6,1438.7 163.6,1435.2 164.6,1431.3 166.1,1424.9 167.6,1417.8 172.1,1395.1 173.1,1390.4 174.1,1386.1 175.1,1382.4 175.6,1380.8 176.1,1379.4 176.6,1378.2 177.1,1377.4 177.6,1376.9 178.1,1376.8 178.6,1377.1 179.1,1377.7 179.6,1378.7 180.1,1379.9 180.6,1381.4 181.1,1383.1 182.1,1386.9 183.1,1391.3 184.6,1398.6 188.1,1416.4 189.6,1423.5 191.1,1430.1 192.1,1434.1 193.1,1437.7 194.1,1441.0 195.1,1443.8 196.1,1446.1 196.6,1446.9 197.6,1448.3 198.6,1449.0 200.1,1449.6 207.1,1448.8 216.1,1451.2 232.1,1450.5 255.6,1451.1 262.6,1450.2 276.6,1451.2 285.1,1449.9 293.1,1450.9 296.1,1450.4 298.1,1449.3 299.1,1448.4 300.1,1447.1 300.6,1446.2 301.1,1445.0 301.6,1443.3 302.1,1441.1 302.6,1438.0 303.1,1434.0 303.6,1429.0 304.1,1423.1 304.6,1416.3 305.1,1408.8 305.6,1400.8 306.1,1392.4 306.6,1383.6 307.1,1374.5 307.6,1365.2 308.1,1355.6 308.6,1345.7 309.1,1335.6 309.6,1325.3 310.1,1314.7 310.6,1303.9 311.1,1292.8 311.6,1281.6 312.6,1258.6 315.6,1188.0 316.1,1176.4 316.6,1165.0 317.1,1153.7 317.6,1142.8 318.1,1132.1 318.6,1121.8 319.1,1111.9 319.6,1102.6 320.1,1093.9 320.6,1086.1 321.1,1079.5 321.6,1074.4 322.1,1071.2 322.6,1070.0 323.1,1071.0 323.6,1074.1 324.1,1079.0 324.6,1085.4 325.1,1092.9 325.6,1101.4 326.1,1110.5 326.6,1120.1 327.1,1130.2 327.6,1140.6 328.1,1151.4 328.6,1162.4 329.1,1173.6 330.1,1196.4 332.1,1242.8 333.1,1265.6 333.6,1276.9 334.1,1287.9 334.6,1298.8 335.1,1309.5 335.6,1320.0 336.1,1330.2 336.6,1340.2 337.1,1349.9 337.6,1359.4 338.1,1368.6 338.6,1377.6 339.1,1386.4 339.6,1394.8 340.1,1403.0 340.6,1410.7 341.1,1417.9 341.6,1424.4 342.1,1430.1 342.6,1434.9 343.1,1438.7 343.6,1441.6 344.1,1443.8 344.6,1445.4 345.1,1446.5 345.6,1447.3 346.6,1448.4 348.1,1449.2 350.1,1449.4 355.1,1448.8 363.6,1451.1 375.6,1449.9 390.6,1451.2 401.6,1450.3 411.6,1451.1 420.1,1449.3 425.1,1449.5 426.6,1449.2 427.6,1448.6 428.6,1447.7 429.1,1447.1 429.6,1446.2 430.1,1445.0 430.6,1443.4 431.1,1441.2 431.6,1438.3 432.1,1434.5 432.6,1429.9 433.1,1424.5 433.6,1418.3 434.1,1411.5 434.6,1404.3 435.1,1396.7 435.6,1388.8 436.1,1380.6 436.6,1372.2 437.1,1363.6 437.6,1354.8 438.1,1345.7 438.6,1336.4 439.1,1327.0 439.6,1317.4 440.6,1297.6 444.1,1226.4 444.6,1216.5 445.1,1206.7 445.6,1197.1 446.1,1187.8 446.6,1178.8 447.1,1170.2 447.6,1162.0 448.1,1154.4 448.6,1147.6 449.1,1141.9 449.6,1137.4 450.1,1134.6 450.6,1133.6 451.1,1134.5 451.6,1137.2 452.1,1141.6 452.6,1147.3 453.1,1154.0 453.6,1161.4 454.1,1169.5 454.6,1178.0 455.1,1186.8 455.6,1196.0 456.1,1205.5 456.6,1215.1 457.6,1234.9 460.1,1285.4 461.1,1305.2 462.1,1324.5 462.6,1333.9 463.1,1343.1 463.6,1352.1 464.1,1361.0 464.6,1369.6 465.1,1377.9 465.6,1386.1 466.1,1394.0 466.6,1401.6 467.1,1408.9 467.6,1415.8 468.1,1422.2 468.6,1427.9 469.1,1432.8 469.6,1436.9 470.1,1440.1 470.6,1442.6 471.1,1444.4 471.6,1445.8 472.1,1446.8 472.6,1447.6 473.6,1448.7 475.1,1449.7 477.1,1450.4 485.1,1449.4 511.6,1451.1 522.1,1450.3 535.1,1451.2 538.6,1450.5 540.1,1449.7 541.1,1448.9 542.1,1447.6 542.6,1446.6 543.1,1445.4 543.6,1444.0 544.1,1442.2 544.6,1440.0 545.1,1437.6 545.6,1434.8 546.1,1431.9 546.6,1428.6 547.1,1425.2 547.6,1421.6 548.1,1417.9 549.1,1409.8 550.1,1401.2 551.1,1392.1 554.1,1363.7 555.1,1354.6 555.6,1350.3 556.1,1346.2 556.6,1342.4 557.1,1338.9 557.6,1335.8 558.1,1333.1 558.6,1331.0 559.1,1329.5 559.6,1328.8 560.1,1328.8 560.6,1329.6 561.1,1331.1 561.6,1333.2 562.1,1335.9 562.6,1339.0 563.1,1342.4 563.6,1346.1 564.1,1350.1 564.6,1354.2 565.6,1363.0 568.6,1390.7 569.6,1399.6 570.6,1408.1 571.6,1416.0 572.6,1423.3 573.1,1426.8 573.6,1430.0 574.1,1433.0 574.6,1435.9 575.1,1438.4 575.6,1440.7 576.1,1442.7 576.6,1444.3 577.1,1445.7 577.6,1446.7 578.1,1447.5 579.1,1448.6 580.1,1449.2 582.1,1449.5 587.1,1448.8 596.1,1451.2 683.6,1451.0 690.1,1449.8 695.6,1450.1 697.6,1449.6 698.6,1449.0 699.1,1448.5 699.6,1447.9 700.1,1447.0 700.6,1445.9 701.1,1444.4 701.6,1442.5 702.1,1440.2 702.6,1437.5 703.1,1434.5 703.6,1431.1 704.1,1427.4 704.6,1423.6 705.1,1419.6 705.6,1415.4 706.6,1406.5 707.6,1397.0 708.6,1386.9 709.6,1376.3 713.6,1331.9 714.6,1321.3 715.1,1316.2 715.6,1311.4 716.1,1306.8 716.6,1302.5 717.1,1298.6 717.6,1295.1 718.1,1292.2 718.6,1290.0 719.1,1288.6 719.6,1288.0 720.1,1288.3 720.6,1289.5 721.1,1291.3 721.6,1293.8 722.1,1296.7 722.6,1299.9 723.1,1303.5 723.6,1307.2 724.1,1311.2 725.1,1319.6 726.1,1328.6 730.6,1371.3 732.1,1385.1 733.1,1393.8 734.1,1402.2 735.1,1410.1 736.1,1417.6 737.1,1424.6 738.1,1431.0 738.6,1434.0 739.1,1436.8 739.6,1439.3 740.1,1441.5 740.6,1443.4 741.1,1444.9 741.6,1446.1 742.1,1447.1 743.1,1448.3 744.6,1449.5 748.6,1450.9 766.6,1451.4" fill="none" stroke="#000" stroke-width="4.3" stroke-linejoin="round" stroke-linecap="round" />
<polygon points="175.1,1382.4 175.6,1380.8 176.1,1379.4 176.6,1378.2 177.1,1377.4 177.6,1376.9 178.1,1376.8 178.6,1377.1 179.1,1377.7 179.6,1378.7 180.1,1379.9 180.6,1381.4 181.1,1383.1" fill="#000"/>
<polygon points="318.6,1121.8 319.1,1111.9 319.6,1102.6 320.1,1093.9 320.6,1086.1 321.1,1079.5 321.6,1074.4 322.1,1071.2 322.6,1070.0 323.1,1071.0 323.6,1074.1 324.1,1079.0 324.6,1085.4 325.1,1092.9 325.6,1101.4 326.1,1110.5 326.6,1120.1" fill="#000"/>
<polygon points="446.6,1178.8 447.1,1170.2 447.6,1162.0 448.1,1154.4 448.6,1147.6 449.1,1141.9 449.6,1137.4 450.1,1134.6 450.6,1133.6 451.1,1134.5 451.6,1137.2 452.1,1141.6 452.6,1147.3 453.1,1154.0 453.6,1161.4 454.1,1169.5 454.6,1178.0" fill="#000"/>
<polygon points="556.1,1346.2 556.6,1342.4 557.1,1338.9 557.6,1335.8 558.1,1333.1 558.6,1331.0 559.1,1329.5 559.6,1328.8 560.1,1328.8 560.6,1329.6 561.1,1331.1 561.6,1333.2 562.1,1335.9 562.6,1339.0 563.1,1342.4 563.6,1346.1" fill="#000"/>
<polygon points="716.1,1306.8 716.6,1302.5 717.1,1298.6 717.6,1295.1 718.1,1292.2 718.6,1290.0 719.1,1288.6 719.6,1288.0 720.1,1288.3 720.6,1289.5 721.1,1291.3 721.6,1293.8 722.1,1296.7 722.6,1299.9 723.1,1303.5 723.6,1307.2" fill="#000"/>
<text transform="matrix(0.18750,0,0,0.13679,67.950,457.119)" font-family="'Liberation Sans', Arial, sans-serif" font-size="100" fill="#222" stroke="#222" stroke-width="3.2" stroke-linejoin="round">0</text>
<text transform="matrix(0.19520,0,0,0.13679,51.532,410.086)" font-family="'Liberation Sans', Arial, sans-serif" font-size="100" fill="#222" stroke="#222" stroke-width="3.2" stroke-linejoin="round">0.2</text>
<text transform="matrix(0.19527,0,0,0.13679,51.131,363.053)" font-family="'Liberation Sans', Arial, sans-serif" font-size="100" fill="#222" stroke="#222" stroke-width="3.2" stroke-linejoin="round">0.4</text>
<text transform="matrix(0.19523,0,0,0.13679,51.331,316.019)" font-family="'Liberation Sans', Arial, sans-serif" font-size="100" fill="#222" stroke="#222" stroke-width="3.2" stroke-linejoin="round">0.6</text>
<text transform="matrix(0.19523,0,0,0.13679,51.331,268.986)" font-family="'Liberation Sans', Arial, sans-serif" font-size="100" fill="#222" stroke="#222" stroke-width="3.2" stroke-linejoin="round">0.8</text>
<text transform="matrix(0.18615,0,0,0.14058,68.209,222.083)" font-family="'Liberation Sans', Arial, sans-serif" font-size="100" fill="#222" stroke="#222" stroke-width="3.2" stroke-linejoin="round">1</text>
<text transform="matrix(0.19505,0,0,0.13866,51.552,175.053)" font-family="'Liberation Sans', Arial, sans-serif" font-size="100" fill="#222" stroke="#222" stroke-width="3.2" stroke-linejoin="round">1.2</text>
<text transform="matrix(0.19512,0,0,0.13866,51.151,128.020)" font-family="'Liberation Sans', Arial, sans-serif" font-size="100" fill="#222" stroke="#222" stroke-width="3.2" stroke-linejoin="round">1.4</text>
<text transform="matrix(0.19508,0,0,0.13679,51.351,80.853)" font-family="'Liberation Sans', Arial, sans-serif" font-size="100" fill="#222" stroke="#222" stroke-width="3.2" stroke-linejoin="round">1.6</text>
<text transform="matrix(0.19508,0,0,0.13679,51.351,33.819)" font-family="'Liberation Sans', Arial, sans-serif" font-size="100" fill="#222" stroke="#222" stroke-width="3.2" stroke-linejoin="round">1.8</text>
<text transform="matrix(0.18750,0,0,0.13679,79.750,471.794)" font-family="'Liberation Sans', Arial, sans-serif" font-size="100" fill="#222" stroke="#222" stroke-width="3.2" stroke-linejoin="round">0</text>
<text transform="matrix(0.19701,0,0,0.13679,146.564,471.794)" font-family="'Liberation Sans', Arial, sans-serif" font-size="100" fill="#222" stroke="#222" stroke-width="3.2" stroke-linejoin="round">1000</text>
<text transform="matrix(0.19705,0,0,0.13679,230.780,471.794)" font-family="'Liberation Sans', Arial, sans-serif" font-size="100" fill="#222" stroke="#222" stroke-width="3.2" stroke-linejoin="round">2000</text>
<text transform="matrix(0.19707,0,0,0.13679,314.802,471.794)" font-family="'Liberation Sans', Arial, sans-serif" font-size="100" fill="#222" stroke="#222" stroke-width="3.2" stroke-linejoin="round">3000</text>
<text transform="matrix(0.19709,0,0,0.13679,398.921,471.794)" font-family="'Liberation Sans', Arial, sans-serif" font-size="100" fill="#222" stroke="#222" stroke-width="3.2" stroke-linejoin="round">4000</text>
<text transform="matrix(0.19707,0,0,0.13679,482.652,471.794)" font-family="'Liberation Sans', Arial, sans-serif" font-size="100" fill="#222" stroke="#222" stroke-width="3.2" stroke-linejoin="round">5000</text>
<text transform="matrix(0.19705,0,0,0.13679,566.480,471.794)" font-family="'Liberation Sans', Arial, sans-serif" font-size="100" fill="#222" stroke="#222" stroke-width="3.2" stroke-linejoin="round">6000</text>
<text transform="matrix(0.19705,0,0,0.13679,650.405,471.794)" font-family="'Liberation Sans', Arial, sans-serif" font-size="100" fill="#222" stroke="#222" stroke-width="3.2" stroke-linejoin="round">7000</text>
<text transform="matrix(0.19707,0,0,0.13679,734.427,471.794)" font-family="'Liberation Sans', Arial, sans-serif" font-size="100" fill="#222" stroke="#222" stroke-width="3.2" stroke-linejoin="round">8000</text>
<text transform="matrix(0.34066,0,0,0.35693,9.966,26.179)" font-family="'Liberation Serif', 'Times New Roman', serif" font-size="100" fill="#111" stroke="#111" stroke-width="1.8" stroke-linejoin="round">A</text>
<text transform="matrix(0.19872,0,0,0.14690,85.719,20.618)" font-family="'Liberation Sans', Arial, sans-serif" font-size="100" fill="#222" stroke="#222" stroke-width="3.2" stroke-linejoin="round">x 10</text>
<text transform="matrix(0.12754,0,0,0.07104,125.166,11.015)" font-family="'Liberation Sans', Arial, sans-serif" font-size="100" fill="#222" stroke="#222" stroke-width="3.2" stroke-linejoin="round">−5</text>
<text transform="matrix(0.20674,0,0,0.15026,323.484,491.309)" font-family="'Liberation Sans', Arial, sans-serif" font-size="100" fill="#222" stroke="#222" stroke-width="3.2" stroke-linejoin="round">relative base location</text>
<text transform="matrix(0,-0.16074,0.18519,0,35.415,263.347)" font-family="'Liberation Sans', Arial, sans-serif" font-size="100" fill="#222" stroke="#222" stroke-width="3.2" stroke-linejoin="round">S(N/3)</text>
<text transform="matrix(0.17813,0,0,0.14811,78.752,957.110)" font-family="'Liberation Sans', Arial, sans-serif" font-size="100" fill="#222" stroke="#222" stroke-width="3.2" stroke-linejoin="round">0</text>
<text transform="matrix(0.18544,0,0,0.14811,63.155,914.760)" font-family="'Liberation Sans', Arial, sans-serif" font-size="100" fill="#222" stroke="#222" stroke-width="3.2" stroke-linejoin="round">0.2</text>
<text transform="matrix(0.18550,0,0,0.14811,62.775,872.410)" font-family="'Liberation Sans', Arial, sans-serif" font-size="100" fill="#222" stroke="#222" stroke-width="3.2" stroke-linejoin="round">0.4</text>
<text transform="matrix(0.18547,0,0,0.14811,62.965,830.060)" font-family="'Liberation Sans', Arial, sans-serif" font-size="100" fill="#222" stroke="#222" stroke-width="3.2" stroke-linejoin="round">0.6</text>
<text transform="matrix(0.18547,0,0,0.14811,62.965,787.710)" font-family="'Liberation Sans', Arial, sans-serif" font-size="100" fill="#222" stroke="#222" stroke-width="3.2" stroke-linejoin="round">0.8</text>
<text transform="matrix(0.17684,0,0,0.15222,78.998,745.501)" font-family="'Liberation Sans', Arial, sans-serif" font-size="100" fill="#222" stroke="#222" stroke-width="3.2" stroke-linejoin="round">1</text>
<text transform="matrix(0.18529,0,0,0.15014,63.174,703.155)" font-family="'Liberation Sans', Arial, sans-serif" font-size="100" fill="#222" stroke="#222" stroke-width="3.2" stroke-linejoin="round">1.2</text>
<text transform="matrix(0.18537,0,0,0.15014,62.794,660.805)" font-family="'Liberation Sans', Arial, sans-serif" font-size="100" fill="#222" stroke="#222" stroke-width="3.2" stroke-linejoin="round">1.4</text>
<text transform="matrix(0.18533,0,0,0.14811,62.984,618.310)" font-family="'Liberation Sans', Arial, sans-serif" font-size="100" fill="#222" stroke="#222" stroke-width="3.2" stroke-linejoin="round">1.6</text>
<text transform="matrix(0.18533,0,0,0.14811,62.984,575.960)" font-family="'Liberation Sans', Arial, sans-serif" font-size="100" fill="#222" stroke="#222" stroke-width="3.2" stroke-linejoin="round">1.8</text>
<text transform="matrix(0.17764,0,0,0.15014,78.956,533.755)" font-family="'Liberation Sans', Arial, sans-serif" font-size="100" fill="#222" stroke="#222" stroke-width="3.2" stroke-linejoin="round">2</text>
<text transform="matrix(0.17813,0,0,0.14811,90.413,971.105)" font-family="'Liberation Sans', Arial, sans-serif" font-size="100" fill="#222" stroke="#222" stroke-width="3.2" stroke-linejoin="round">0</text>
<text transform="matrix(0.18716,0,0,0.14811,158.070,971.105)" font-family="'Liberation Sans', Arial, sans-serif" font-size="100" fill="#222" stroke="#222" stroke-width="3.2" stroke-linejoin="round">1000</text>
<text transform="matrix(0.18720,0,0,0.14811,242.259,971.105)" font-family="'Liberation Sans', Arial, sans-serif" font-size="100" fill="#222" stroke="#222" stroke-width="3.2" stroke-linejoin="round">2000</text>
<text transform="matrix(0.18721,0,0,0.14811,326.263,971.105)" font-family="'Liberation Sans', Arial, sans-serif" font-size="100" fill="#222" stroke="#222" stroke-width="3.2" stroke-linejoin="round">3000</text>
<text transform="matrix(0.18724,0,0,0.14811,410.360,971.105)" font-family="'Liberation Sans', Arial, sans-serif" font-size="100" fill="#222" stroke="#222" stroke-width="3.2" stroke-linejoin="round">4000</text>
<text transform="matrix(0.18721,0,0,0.14811,494.088,971.105)" font-family="'Liberation Sans', Arial, sans-serif" font-size="100" fill="#222" stroke="#222" stroke-width="3.2" stroke-linejoin="round">5000</text>
<text transform="matrix(0.18720,0,0,0.14811,577.909,971.105)" font-family="'Liberation Sans', Arial, sans-serif" font-size="100" fill="#222" stroke="#222" stroke-width="3.2" stroke-linejoin="round">6000</text>
<text transform="matrix(0.18720,0,0,0.14811,661.821,971.105)" font-family="'Liberation Sans', Arial, sans-serif" font-size="100" fill="#222" stroke="#222" stroke-width="3.2" stroke-linejoin="round">7000</text>
<text transform="matrix(0.18721,0,0,0.14811,745.826,971.105)" font-family="'Liberation Sans', Arial, sans-serif" font-size="100" fill="#222" stroke="#222" stroke-width="3.2" stroke-linejoin="round">8000</text>
<text transform="matrix(0.34704,0,0,0.35398,9.971,519.727)" font-family="'Liberation Serif', 'Times New Roman', serif" font-size="100" fill="#111" stroke="#111" stroke-width="1.8" stroke-linejoin="round">B</text>
<text transform="matrix(0.19498,0,0,0.13612,96.117,521.746)" font-family="'Liberation Sans', Arial, sans-serif" font-size="100" fill="#222" stroke="#222" stroke-width="3.2" stroke-linejoin="round">x 10</text>
<text transform="matrix(0.11995,0,0,0.06557,135.312,511.730)" font-family="'Liberation Sans', Arial, sans-serif" font-size="100" fill="#222" stroke="#222" stroke-width="3.2" stroke-linejoin="round">-5</text>
<text transform="matrix(0.20071,0,0,0.14119,333.816,992.933)" font-family="'Liberation Sans', Arial, sans-serif" font-size="100" fill="#222" stroke="#222" stroke-width="3.2" stroke-linejoin="round">relative base location</text>
<text transform="matrix(0,-0.15714,0.18313,0,46.961,847.077)" font-family="'Liberation Sans', Arial, sans-serif" font-size="100" fill="#222" stroke="#222" stroke-width="3.2" stroke-linejoin="round">energy at period-3 component</text>
<text transform="matrix(0.17813,0,0,0.15094,78.752,1458.108)" font-family="'Liberation Sans', Arial, sans-serif" font-size="100" fill="#222" stroke="#222" stroke-width="3.2" stroke-linejoin="round">0</text>
<text transform="matrix(0.18547,0,0,0.15094,62.965,1415.888)" font-family="'Liberation Sans', Arial, sans-serif" font-size="100" fill="#222" stroke="#222" stroke-width="3.2" stroke-linejoin="round">0.5</text>
<text transform="matrix(0.17684,0,0,0.15512,78.998,1373.812)" font-family="'Liberation Sans', Arial, sans-serif" font-size="100" fill="#222" stroke="#222" stroke-width="3.2" stroke-linejoin="round">1</text>
<text transform="matrix(0.18533,0,0,0.15301,62.984,1331.442)" font-family="'Liberation Sans', Arial, sans-serif" font-size="100" fill="#222" stroke="#222" stroke-width="3.2" stroke-linejoin="round">1.5</text>
<text transform="matrix(0.17764,0,0,0.15301,78.956,1289.375)" font-family="'Liberation Sans', Arial, sans-serif" font-size="100" fill="#222" stroke="#222" stroke-width="3.2" stroke-linejoin="round">2</text>
<text transform="matrix(0.18544,0,0,0.15094,62.970,1247.008)" font-family="'Liberation Sans', Arial, sans-serif" font-size="100" fill="#222" stroke="#222" stroke-width="3.2" stroke-linejoin="round">2.5</text>
<text transform="matrix(0.17789,0,0,0.15094,78.943,1204.788)" font-family="'Liberation Sans', Arial, sans-serif" font-size="100" fill="#222" stroke="#222" stroke-width="3.2" stroke-linejoin="round">3</text>
<text transform="matrix(0.18547,0,0,0.15094,62.965,1162.568)" font-family="'Liberation Sans', Arial, sans-serif" font-size="100" fill="#222" stroke="#222" stroke-width="3.2" stroke-linejoin="round">3.5</text>
<text transform="matrix(0.17878,0,0,0.15301,78.538,1120.495)" font-family="'Liberation Sans', Arial, sans-serif" font-size="100" fill="#222" stroke="#222" stroke-width="3.2" stroke-linejoin="round">4</text>
<text transform="matrix(0.18554,0,0,0.15094,62.956,1078.128)" font-family="'Liberation Sans', Arial, sans-serif" font-size="100" fill="#222" stroke="#222" stroke-width="3.2" stroke-linejoin="round">4.5</text>
<text transform="matrix(0.17813,0,0,0.15301,78.752,1035.902)" font-family="'Liberation Sans', Arial, sans-serif" font-size="100" fill="#222" stroke="#222" stroke-width="3.2" stroke-linejoin="round">5</text>
<text transform="matrix(0.17813,0,0,0.15094,89.612,1472.308)" font-family="'Liberation Sans', Arial, sans-serif" font-size="100" fill="#222" stroke="#222" stroke-width="3.2" stroke-linejoin="round">0</text>
<text transform="matrix(0.18716,0,0,0.15094,157.395,1472.308)" font-family="'Liberation Sans', Arial, sans-serif" font-size="100" fill="#222" stroke="#222" stroke-width="3.2" stroke-linejoin="round">1000</text>
<text transform="matrix(0.18720,0,0,0.15094,241.709,1472.308)" font-family="'Liberation Sans', Arial, sans-serif" font-size="100" fill="#222" stroke="#222" stroke-width="3.2" stroke-linejoin="round">2000</text>
<text transform="matrix(0.18721,0,0,0.15094,325.838,1472.308)" font-family="'Liberation Sans', Arial, sans-serif" font-size="100" fill="#222" stroke="#222" stroke-width="3.2" stroke-linejoin="round">3000</text>
<text transform="matrix(0.18724,0,0,0.15094,410.060,1472.308)" font-family="'Liberation Sans', Arial, sans-serif" font-size="100" fill="#222" stroke="#222" stroke-width="3.2" stroke-linejoin="round">4000</text>
<text transform="matrix(0.18721,0,0,0.15094,493.913,1472.308)" font-family="'Liberation Sans', Arial, sans-serif" font-size="100" fill="#222" stroke="#222" stroke-width="3.2" stroke-linejoin="round">5000</text>
<text transform="matrix(0.18720,0,0,0.15094,577.859,1472.308)" font-family="'Liberation Sans', Arial, sans-serif" font-size="100" fill="#222" stroke="#222" stroke-width="3.2" stroke-linejoin="round">6000</text>
<text transform="matrix(0.18720,0,0,0.15094,661.896,1472.308)" font-family="'Liberation Sans', Arial, sans-serif" font-size="100" fill="#222" stroke="#222" stroke-width="3.2" stroke-linejoin="round">7000</text>
<text transform="matrix(0.18721,0,0,0.15094,746.026,1472.308)" font-family="'Liberation Sans', Arial, sans-serif" font-size="100" fill="#222" stroke="#222" stroke-width="3.2" stroke-linejoin="round">8000</text>
<text transform="matrix(0.36735,0,0,0.33811,14.061,1020.819)" font-family="'Liberation Serif', 'Times New Roman', serif" font-size="100" fill="#111" stroke="#111" stroke-width="1.8" stroke-linejoin="round">C</text>
<text transform="matrix(0.19712,0,0,0.13612,95.718,1022.746)" font-family="'Liberation Sans', Arial, sans-serif" font-size="100" fill="#222" stroke="#222" stroke-width="3.2" stroke-linejoin="round">x 10</text>
<text transform="matrix(0.11520,0,0,0.06557,135.324,1012.730)" font-family="'Liberation Sans', Arial, sans-serif" font-size="100" fill="#222" stroke="#222" stroke-width="3.2" stroke-linejoin="round">-5</text>
<text transform="matrix(0.20071,0,0,0.14508,333.816,1493.923)" font-family="'Liberation Sans', Arial, sans-serif" font-size="100" fill="#222" stroke="#222" stroke-width="3.2" stroke-linejoin="round">relative base location</text>
<text transform="matrix(0,-0.15684,0.18313,0,46.961,1347.676)" font-family="'Liberation Sans', Arial, sans-serif" font-size="100" fill="#222" stroke="#222" stroke-width="3.2" stroke-linejoin="round">energy at period-3 component</text>
</g>
</svg>
</body></html>
